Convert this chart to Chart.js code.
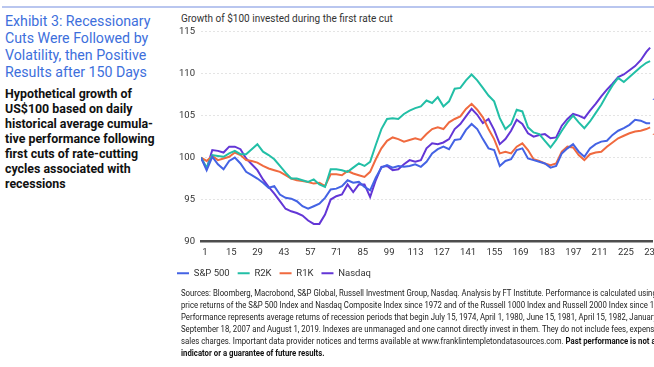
<!DOCTYPE html>
<html><head><meta charset="utf-8">
<script src="https://cdn.jsdelivr.net/npm/chart.js@4"></script>
<style>
html,body{margin:0;padding:0;background:#fff;}
body{width:654px;height:367px;overflow:hidden;position:relative;font-family:Roboto,"Noto Sans",sans-serif;}
#rule{position:absolute;left:2px;top:6px;width:652px;height:2px;background:#b9c6ef;}
#side{position:absolute;left:5px;top:13px;width:176px;}
#side h1{margin:0;font-weight:400;font-size:14.2px;line-height:17px;color:#3d6fdc;}
#side p{margin:5px 0 0;font-weight:700;font-size:12.4px;line-height:15px;color:#111;}
#ctitle{position:absolute;left:181px;top:13px;font-size:10px;color:#333;white-space:nowrap;}
#wrap{position:absolute;left:169px;top:20px;width:560px;height:268px;}
#src{position:absolute;left:181px;top:287px;font-size:9.6px;line-height:12px;white-space:nowrap;color:#222;transform:scaleX(0.81);transform-origin:0 0;}
#src b{font-weight:700;color:#111;}
</style></head>
<body>
<div id="rule"></div>
<div id="side">
<h1>Exhibit 3: Recessionary<br>Cuts Were Followed by<br>Volatility, then Positive<br>Results after 150 Days</h1>
<p>Hypothetical growth of<br>US$100 based on daily<br>historical average cumula-<br>tive performance following<br>first cuts of rate-cutting<br>cycles associated with<br>recessions</p>
</div>
<div id="ctitle">Growth of $100 invested during the first rate cut</div>
<div id="wrap"><canvas id="c" width="560" height="268"></canvas></div>
<div id="src">
Sources: Bloomberg, Macrobond, S&amp;P Global, Russell Investment Group, Nasdaq. Analysis by FT Institute. Performance is calculated using<br>
price returns of the S&amp;P 500 Index and Nasdaq Composite Index since 1972 and of the Russell 1000 Index and Russell 2000 Index since 1979.<br>
Performance represents average returns of recession periods that begin July 15, 1974, April 1, 1980, June 15, 1981, April 15, 1982, January 3, 2001,<br>
September 18, 2007 and August 1, 2019. Indexes are unmanaged and one cannot directly invest in them. They do not include fees, expenses or<br>
sales charges. Important data provider notices and terms available at www.franklintempletondatasources.com. <b>Past performance is not an</b><br>
<b>indicator or a guarantee of future results.</b>
</div>
<script>
const days = [1,4,7,10,13,16,19,22,25,28,31,34,37,40,43,46,49,52,55,58,61,64,67,70,73,76,79,82,85,88,91,94,97,100,103,106,109,112,115,118,121,124,127,130,133,136,139,142,145,148,151,154,157,160,163,166,169,172,175,178,181,184,187,190,193,196,199,202,205,208,211,214,217,220,223,226,229,232,235,238,240];
const xTickLabels = [1,15,29,43,57,71,85,99,113,127,141,155,169,183,197,211,225,239];
const yTickLabels = [90,95,100,105,110,115];
const seriesNames = ["S&P 500","R2K","R1K","Nasdaq"];
const sp500 = [100.0,98.5,100.1,99.2,98.6,99.6,100.0,99.3,98.3,97.9,
97.5,97.0,96.4,96.6,95.6,95.2,95.1,94.8,94.2,93.9,
94.2,94.5,95.2,96.2,96.3,96.6,97.3,97.0,97.1,96.5,
96.1,97.6,98.8,99.1,98.8,99.0,98.9,99.0,99.2,98.9,
99.5,100.5,101.0,101.3,101.0,102.1,102.2,103.3,104.0,103.4,
102.2,101.1,100.9,99.0,99.6,99.8,100.9,101.1,99.9,99.7,
99.5,99.3,98.8,99.0,100.5,101.1,101.6,100.7,100.1,101.1,
101.6,101.9,102.0,102.7,103.2,103.5,103.9,104.5,104.4,104.1,104.1];
const r2k = [100.0,98.8,100.3,100.2,100.1,100.5,100.8,100.4,100.4,101.0,
101.6,100.7,100.3,99.8,99.0,98.2,97.5,97.5,97.3,97.1,
97.4,96.8,96.5,98.6,98.6,98.5,98.3,98.8,99.3,99.0,
99.5,101.5,103.4,104.6,104.7,104.6,105.2,105.6,105.9,106.1,
106.8,106.5,107.2,106.1,106.7,108.2,108.3,109.2,109.9,109.2,
108.3,107.4,106.7,104.7,103.4,104.0,105.7,105.5,103.6,103.0,
102.8,102.0,101.2,102.1,103.2,104.2,105.0,104.2,103.5,104.3,
105.3,106.3,107.5,108.6,109.5,109.0,109.6,110.2,110.8,111.3,111.5];
const r1k = [100.0,99.6,100.2,99.7,99.9,100.1,100.6,100.3,99.7,99.6,
99.4,99.0,98.7,98.5,98.3,97.9,97.5,97.3,97.2,97.1,
96.9,97.0,96.6,98.0,98.0,97.9,98.4,98.1,97.9,97.7,
98.3,99.8,101.1,102.0,102.4,102.2,101.9,102.1,102.3,102.1,
102.8,103.4,103.6,103.4,104.2,104.6,104.9,105.8,106.4,105.7,
104.8,103.4,102.2,100.5,100.7,100.5,101.3,101.7,100.9,99.8,
99.6,99.3,99.1,99.3,100.7,101.3,101.2,100.3,99.7,100.4,
100.6,100.7,101.3,101.8,102.3,102.6,102.9,103.1,103.2,103.4,103.6];
const nasdaq = [100.0,98.7,100.9,100.8,100.6,101.3,101.3,101.0,99.9,99.2,
98.5,97.4,96.5,95.7,94.8,93.9,93.6,93.4,93.1,92.5,
92.1,92.1,93.2,95.0,95.4,95.6,96.8,95.9,96.8,96.8,
95.3,97.3,98.9,99.0,98.5,98.6,99.2,99.7,99.5,99.7,
101.1,101.7,101.6,101.8,102.2,103.4,104.0,104.9,105.8,105.1,
104.1,104.6,103.3,101.6,102.2,103.2,104.5,104.0,102.9,102.5,
102.7,102.8,102.3,102.4,103.8,104.6,105.2,105.0,104.7,105.6,
106.4,107.3,108.1,108.8,109.6,109.9,110.4,110.9,111.6,112.6,113.1];

const colors = ["#4463e4","#22bfa6","#f06a3f","#6336d6"];
const allValues = [sp500, r2k, r1k, nasdaq];
const fam = 'Roboto, "Noto Sans", sans-serif';
Chart.defaults.font.family = fam;
Chart.defaults.font.size = 9.5;
Chart.defaults.color = '#333';

const endLabels = {
  id: 'endLabels',
  afterDatasetsDraw(chart) {
    const ctx = chart.ctx;
    const offs = [[0, -20], [2, 11]];
    ctx.save();
    ctx.font = '10px ' + fam;
    ctx.textBaseline = 'middle';
    offs.forEach(([i, dy]) => {
      const ds = chart.data.datasets[i];
      const last = ds.data[ds.data.length - 1];
      const x = chart.scales.x.getPixelForValue(last.x) + 2;
      const y = chart.scales.y.getPixelForValue(last.y) + dy;
      ctx.fillStyle = ds.borderColor;
      ctx.fillText(last.y.toFixed(1), x, y);
    });
    ctx.restore();
  }
};

new Chart(document.getElementById('c'), {
  type: 'line',
  data: {
    datasets: seriesNames.map((n, k) => ({
      label: n,
      data: days.map((d, i) => ({x: d, y: allValues[k][i]})),
      borderColor: colors[k],
      backgroundColor: colors[k],
      borderWidth: 2,
      pointRadius: 0,
      tension: 0,
      fill: false
    }))
  },
  options: {
    responsive: false,
    animation: false,
    devicePixelRatio: 1,
    layout: {padding: {top: 0, right: 77, left: 0, bottom: 0}},
    plugins: {
      legend: {
        position: 'bottom', align: 'start',
        labels: {usePointStyle: true, pointStyle: 'line', pointStyleWidth: 12, boxWidth: 12, boxHeight: 10, padding: 8, color: '#333', font: {size: 9.5}}
      },
      title: {display: false},
      tooltip: {enabled: false}
    },
    scales: {
      x: {
        type: 'linear', min: 1, max: 241,
        afterBuildTicks: s => { s.ticks = xTickLabels.map(v => ({value: v})); },
        afterFit: s => { s.height = 19; },
        ticks: {autoSkip: false, maxRotation: 0, padding: 5, labelOffset: 4, color: '#333'},
        grid: {display: false, drawTicks: false},
        border: {display: true, color: '#4d4d4d', width: 2.5}
      },
      y: {
        min: 90, max: 115,
        afterBuildTicks: s => { s.ticks = yTickLabels.map(v => ({value: v})); },
        afterFit: s => { s.width = 32; },
        ticks: {padding: 6, color: '#333'},
        grid: {color: '#e4e4e4', lineWidth: 1, drawTicks: false},
        border: {display: false, dash: [2, 2]}
      }
    }
  },
  plugins: [endLabels]
});
</script>
</body></html>
